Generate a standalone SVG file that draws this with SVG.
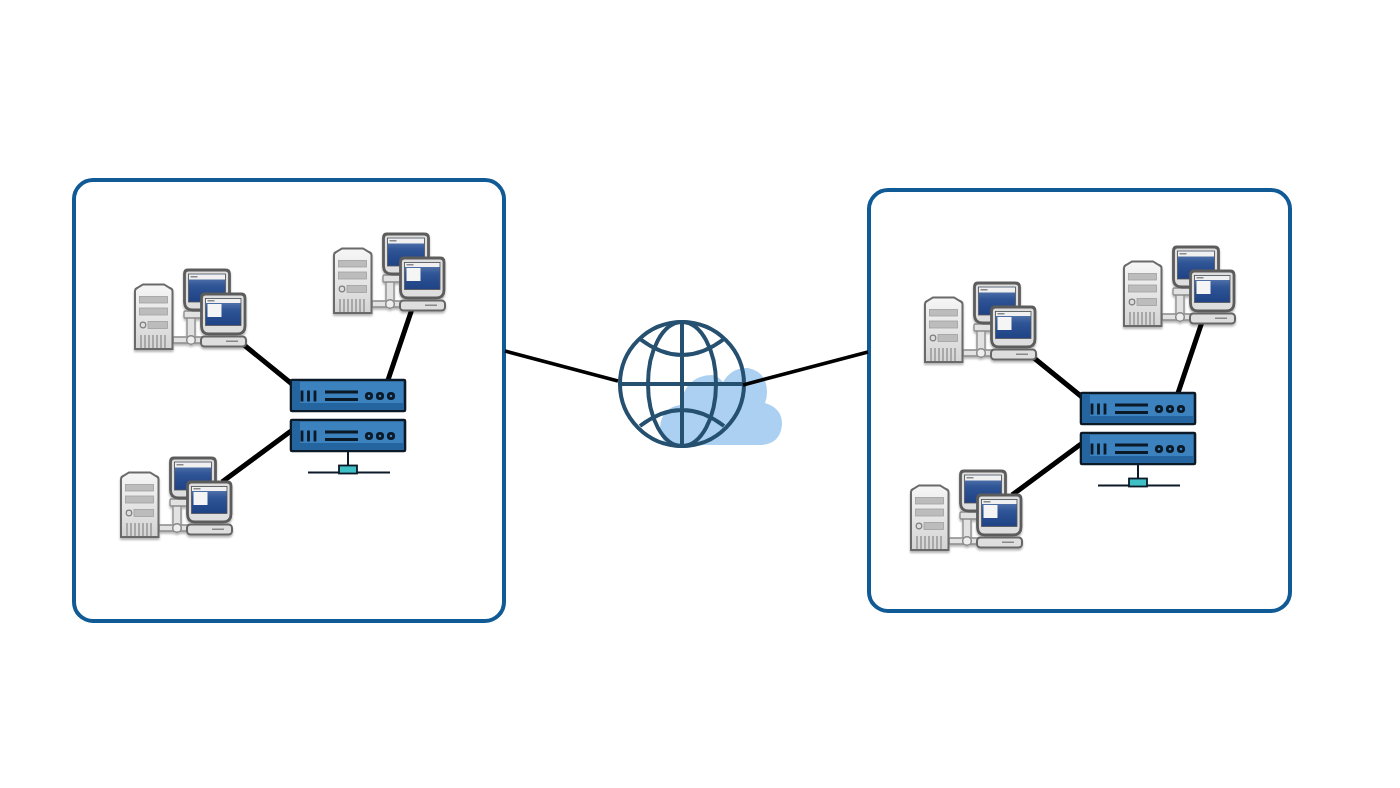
<svg xmlns="http://www.w3.org/2000/svg" width="1400" height="788" viewBox="0 0 1400 788">
<style>
.box{fill:#fff;stroke:#105a96;stroke-width:4}
.link{stroke:#000;fill:none;stroke-linecap:butt}
.thick{stroke-width:5}
.thin{stroke-width:3.600}
.g{fill:none;stroke:#25506f;stroke-width:4}
.mon{fill:#dedede;stroke:#5c5c5c;stroke-width:2.800}
.srv{fill:url(#sv);stroke:#6b6b6b;stroke-width:2}
.slot{fill:#bcbcbc;stroke:#a0a0a0;stroke-width:.8}
.pipe{fill:#e2e2e2;stroke:#8a8a8a;stroke-width:1.300}
.rb{fill:#3b82bf;stroke:#0c1a28;stroke-width:2.600}
.rd{fill:#25659f}
.ri{stroke:#0c1a28;stroke-width:2.800;fill:none}
</style>
<defs>
<linearGradient id="sv" x1="0" y1="0" x2="0" y2="1"><stop offset="0" stop-color="#f6f6f6"/><stop offset="1" stop-color="#d4d4d4"/></linearGradient>
<linearGradient id="scr" x1="0" y1="0" x2="0" y2="1"><stop offset="0" stop-color="#6482b4"/><stop offset=".42" stop-color="#2f5596"/><stop offset="1" stop-color="#1f4285"/></linearGradient>
<filter id="sh" x="-10%" y="-10%" width="120%" height="125%"><feGaussianBlur in="SourceAlpha" stdDeviation="1.200"/><feOffset dy="1.500"/><feComponentTransfer><feFuncA type="linear" slope=".3"/></feComponentTransfer><feMerge><feMergeNode/><feMergeNode in="SourceGraphic"/></feMerge></filter>
<g id="cluster" filter="url(#sh)">
<path class="pipe" d="M173 337H187V316H195V337H205V343H173Z"/>
<rect class="pipe" x="184" y="311" width="20" height="7" rx="1"/>
<path class="srv" d="M135 291Q135 289 137 288L143 284.500H164L170 288Q172.500 289 172.500 291V349H135Z"/>
<rect class="slot" x="139.500" y="296.500" width="28" height="6.500"/>
<rect class="slot" x="139.500" y="308" width="28" height="7"/>
<rect class="slot" x="148" y="321.500" width="19.500" height="7"/>
<circle cx="143" cy="325" r="2.800" fill="#ddd" stroke="#808080" stroke-width="1.200"/>
<path d="M141 348V335M145 348V335M149 348V335M153 348V335M157 348V335M161 348V335M165 348V335" stroke="#a8a8a8" stroke-width="2"/>
<circle cx="191" cy="340" r="4.300" fill="#eee" stroke="#888" stroke-width="1.500"/>
<path class="mon" d="M188 270H225Q229.500 270 229.500 274V302Q229.500 310 221 310H193Q184.500 310 184.500 302V274Q184.500 270 188 270Z"/>
<rect x="188.500" y="274" width="37" height="28" fill="url(#scr)" stroke="#555" stroke-width=".8"/>
<rect x="189" y="274.500" width="36" height="5" fill="#f0f0f0"/>
<rect x="190.500" y="276" width="7" height="1.500" fill="#888"/>
<path class="mon" d="M205 294H241Q245 294 245 298V326Q245 334 237 334H209Q201.500 334 201.500 326V298Q201.500 294 205 294Z"/>
<rect x="205.500" y="298.500" width="35.500" height="27" fill="url(#scr)" stroke="#555" stroke-width=".8"/>
<rect x="206" y="299" width="34.500" height="4" fill="#f0f0f0"/>
<rect x="207.500" y="304" width="14" height="13" fill="#f5f5f5"/>
<rect x="207.500" y="300" width="7" height="1.500" fill="#888"/>
<rect x="201" y="336.500" width="45" height="10" rx="3.500" fill="#dedede" stroke="#666" stroke-width="2"/>
<rect x="226" y="340.500" width="12" height="1.500" fill="#888"/>
</g>
<g id="router">
<rect class="rb" x="291" y="380" width="114" height="31" rx="1"/>
<path class="rd" d="M292.300 381.300H300V403H403.700V409.700H292.300Z"/>
<rect class="rb" x="291" y="420" width="114" height="31" rx="1"/>
<path class="rd" d="M292.300 421.300H300V443H403.700V449.700H292.300Z"/>
<path class="ri" d="M302 390.500V401.500M308.500 390.500V401.500M315 390.500V401.500M325 392H358M325 399.500H358M302 430.500V441.500M308.500 430.500V441.500M315 430.500V441.500M325 432H358M325 439.500H358"/>
<g class="ri"><circle cx="369" cy="396" r="2.700"/><circle cx="380" cy="396" r="2.700"/><circle cx="391" cy="396" r="2.700"/><circle cx="369" cy="436" r="2.700"/><circle cx="380" cy="436" r="2.700"/><circle cx="391" cy="436" r="2.700"/></g>
<path d="M348 451V465M308 472.500H390" stroke="#0c1a28" stroke-width="2" fill="none"/>
<rect x="339" y="465.500" width="18" height="8" fill="#3fc0c6" stroke="#0c1a28" stroke-width="1.800"/>
</g>
</defs>
<rect width="1400" height="788" fill="#fff"/>
<g id="site-left"><rect class="box" x="74" y="180" width="430" height="441" rx="19"/></g>
<g id="site-right"><rect class="box" x="869" y="190" width="421" height="421" rx="19"/></g>
<g id="internet">
<path d="M672 445Q660 443 660 428Q661 408 680 405Q686 375 712 375Q718 376 723 382Q732 367 748 368Q767 372 767 392Q767 398 765 403Q782 408 782 424Q781 443 762 445Z" fill="#abd0f1"/>
<circle class="g" cx="682" cy="384" r="62"/>
<ellipse class="g" cx="682" cy="384" rx="34" ry="62"/>
<path class="g" d="M682 322V446M620 384H744M640 339Q682 371 724 339M640 426Q682 394 724 426"/>
</g>
<g id="connectors">
<path class="link thin" d="M505 351L618 381M743 385L868 352"/>
<path class="link thick" d="M244 345L292 384M412 309L388 380M222 482L291 431"/>
<path class="link thick" d="M1034 358L1082 397M1202 322L1178 393M1012 495L1081 444"/>
</g>
<g id="host-a1"><use href="#cluster"/></g>
<g id="host-a2"><use href="#cluster" x="199" y="-36"/></g>
<g id="host-a3"><use href="#cluster" x="-14" y="188"/></g>
<g id="router-a"><use href="#router"/></g>
<g id="host-b1"><use href="#cluster" x="790" y="13"/></g>
<g id="host-b2"><use href="#cluster" x="989" y="-23"/></g>
<g id="host-b3"><use href="#cluster" x="776" y="201"/></g>
<g id="router-b"><use href="#router" x="790" y="13"/></g>
</svg>
